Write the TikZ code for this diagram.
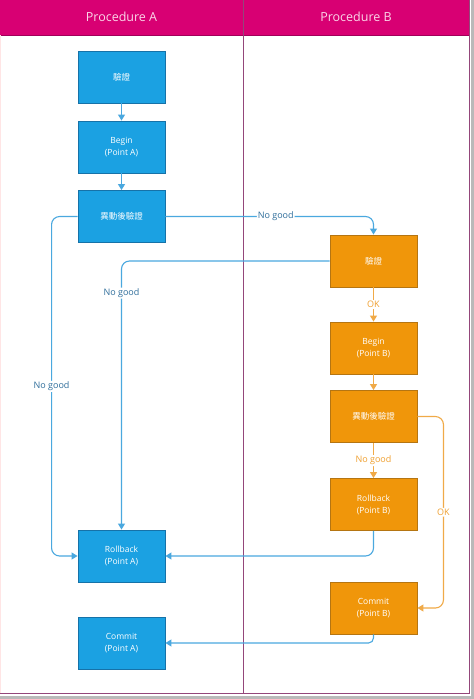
\documentclass[tikz,border=0pt]{standalone}
\usepackage{fontspec}
\setmainfont{Open Sans}
\newfontfamily\cjkfont{Noto Sans CJK TC}
\usetikzlibrary{arrows.meta}
\definecolor{hdr}{HTML}{D80073}
\definecolor{hdrline}{HTML}{A0005A}
\definecolor{hdrtext}{HTML}{FAD6E8}
\definecolor{divc}{HTML}{94467A}
\definecolor{bfill}{HTML}{1BA1E2}
\definecolor{bdraw}{HTML}{1672A8}
\definecolor{bline}{HTML}{4AA8DF}
\definecolor{btext}{HTML}{2F6E9B}
\definecolor{ofill}{HTML}{F0960A}
\definecolor{odraw}{HTML}{B57512}
\definecolor{oline}{HTML}{F0AA48}
\definecolor{otext}{HTML}{F0A030}
\tikzset{
  box/.style={draw, line width=0.9pt, minimum width=87pt, minimum height=52pt, inner sep=0pt,
    text=white, font=\fontsize{8.5}{12}\selectfont, align=center},
  bbox/.style={box, fill=bfill, draw=bdraw},
  obox/.style={box, fill=ofill, draw=odraw},
  bflow/.style={draw=bline, line width=1.1pt, rounded corners=8pt, -{Triangle[length=6pt,width=7pt]}},
  oflow/.style={draw=oline, line width=1.1pt, rounded corners=8pt, -{Triangle[length=6pt,width=7pt]}},
  blab/.style={fill=white, text=btext, inner sep=1pt, font=\fontsize{9}{10}\selectfont},
  olab/.style={fill=white, text=otext, inner sep=1pt, font=\fontsize{9}{10}\selectfont},
  hdrlab/.style={text=hdrtext, font=\fontsize{12.5}{14}\selectfont},
}
\begin{document}
\begin{tikzpicture}[x=1pt,y=-1pt]
\useasboundingbox (0,0) rectangle (474,699);
% background
\fill[gray!55] (0,0) rectangle (474,699);
\fill[white] (0,0) rectangle (471,695.5);
\fill[hdr] (0,0) rectangle (469.5,35);
\draw[hdrline, line width=1pt] (0,35) -- (469.5,35);
\draw[divc, line width=1.3pt] (469.5,0) -- (469.5,693.5) -- (0,693.5);
\draw[pink!40, line width=0.8pt] (0.5,35) -- (0.5,693);
\draw[divc, line width=1.3pt] (243.5,0) -- (243.5,693.5);
\node[hdrlab] (ha) at (121.5,17) {Procedure A};
\node[hdrlab] (hb) at (356,17) {Procedure B};
% left column
\node[bbox] (a1) at (121.5,77) {\cjkfont 驗證};
\node[bbox] (a2) at (121.5,147) {Begin\\(Point A)};
\node[bbox] (a3) at (121.5,216.5) {\cjkfont 異動後驗證};
\node[bbox] (ra) at (121.5,556) {Rollback\\(Point A)};
\node[bbox] (ca) at (121.5,643) {Commit\\(Point A)};
% right column
\node[obox] (vb) at (373.5,261) {\cjkfont 驗證};
\node[obox] (bb) at (373.5,348) {Begin\\(Point B)};
\node[obox] (ib) at (373.5,416.5) {\cjkfont 異動後驗證};
\node[obox] (rb) at (373.5,504.5) {Rollback\\(Point B)};
\node[obox] (cb) at (373.5,608) {Commit\\(Point B)};
% blue connectors
\draw[bflow] (a1) -- (a2);
\draw[bflow] (a2) -- (a3);
\draw[bflow] (a3.east) -| node[blab, pos=0.265] {No good} (vb.north);
\draw[bflow] (vb.west) -| node[blab, pos=0.56] {No good} (ra.north);
\draw[bflow] (a3.west) -- ++(-26,0) |- node[blab, pos=0.25] {No good} (ra.west);
\draw[bflow] (rb.south) |- (ra.east);
\draw[bflow, rounded corners=5pt] (cb.south) |- (ca.east);
% orange connectors
\draw[oflow] (vb) -- node[olab] {OK} (bb);
\draw[oflow] (bb) -- (ib);
\draw[oflow] (ib) -- node[olab] {No good} (rb);
\draw[oflow] (ib.east) -- ++(26,0) |- node[olab, pos=0.25] {OK} (cb.east);
\end{tikzpicture}
\end{document}
